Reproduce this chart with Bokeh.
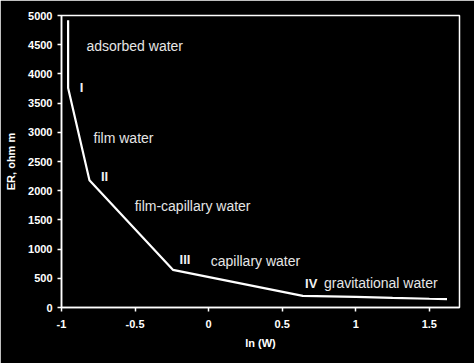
from bokeh.plotting import figure
from bokeh.models import Label, FixedTicker, Range1d
from bokeh.embed import file_html
from bokeh.resources import INLINE

# data
ln_w = [-0.955, -0.955, -0.81, -0.243, 0.64, 1.0, 1.25, 1.5, 1.62]
er = [4920, 3760, 2180, 645, 198, 183, 165, 150, 145]

x_ticks = [-1, -0.5, 0, 0.5, 1, 1.5]
x_tick_labels = ["-1", "-0.5", "0", "0.5", "1", "1.5"]
y_ticks = [0, 500, 1000, 1500, 2000, 2500, 3000, 3500, 4000, 4500, 5000]

zone_labels = ["adsorbed water", "film water", "film-capillary water", "capillary water", "gravitational water"]
zone_x = [-0.83, -0.782, -0.503, 0.014, 0.784]
zone_y = [4470, 2895, 1733, 790, 416]

roman = ["I", "II", "III", "IV"]
roman_x = [-0.864, -0.707, -0.161, 0.697]
roman_y = [3760, 2246, 814, 404]

FONT = "Liberation Sans"

p = figure(width=474, height=363, output_backend="svg", toolbar_location=None,
           x_range=Range1d(-1, 1.705), y_range=Range1d(0, 5000),
           min_border_left=61, min_border_right=15, min_border_top=15, min_border_bottom=56)

p.background_fill_color = "black"
p.border_fill_color = "black"
p.outline_line_color = "white"
p.outline_line_width = 1.5
p.grid.visible = False

p.line(ln_w, er, line_color="white", line_width=2.2)

for ax in (p.xaxis[0], p.yaxis[0]):
    ax.axis_line_color = "white"
    ax.axis_line_width = 1.5
    ax.major_tick_line_color = "white"
    ax.major_tick_line_width = 1.5
    ax.major_tick_in = 0
    ax.major_tick_out = 4
    ax.minor_tick_line_color = None
    ax.major_label_text_color = "white"
    ax.major_label_text_font = FONT
    ax.major_label_text_font_style = "bold"
    ax.major_label_text_font_size = "11px"
    ax.axis_label_text_color = "white"
    ax.axis_label_text_font = FONT
    ax.axis_label_text_font_style = "bold"
    ax.axis_label_text_font_size = "11px"

p.xaxis.ticker = FixedTicker(ticks=x_ticks)
p.xaxis.major_label_overrides = {t: l for t, l in zip(x_ticks, x_tick_labels)}
p.yaxis.ticker = FixedTicker(ticks=y_ticks)
p.yaxis.major_label_overrides = {t: str(t) for t in y_ticks}
p.xaxis.axis_label = "ln (W)"
p.yaxis.axis_label = "ER, ohm m"
p.xaxis.major_label_standoff = 8
p.xaxis.axis_label_standoff = 6
p.yaxis.major_label_standoff = 5
p.yaxis.axis_label_standoff = 8

for t, x, y in zip(zone_labels, zone_x, zone_y):
    p.add_layout(Label(x=x, y=y, text=t, text_color="#e6e6e6", text_font=FONT,
                       text_font_size="14px", text_align="left", text_baseline="middle"))

for t, x, y in zip(roman, roman_x, roman_y):
    p.add_layout(Label(x=x, y=y, text=t, text_color="#f0f0f0", text_font=FONT,
                       text_font_style="bold", text_font_size="13px",
                       text_align="center", text_baseline="middle"))

open("out.html", "w").write(file_html(p, INLINE))
